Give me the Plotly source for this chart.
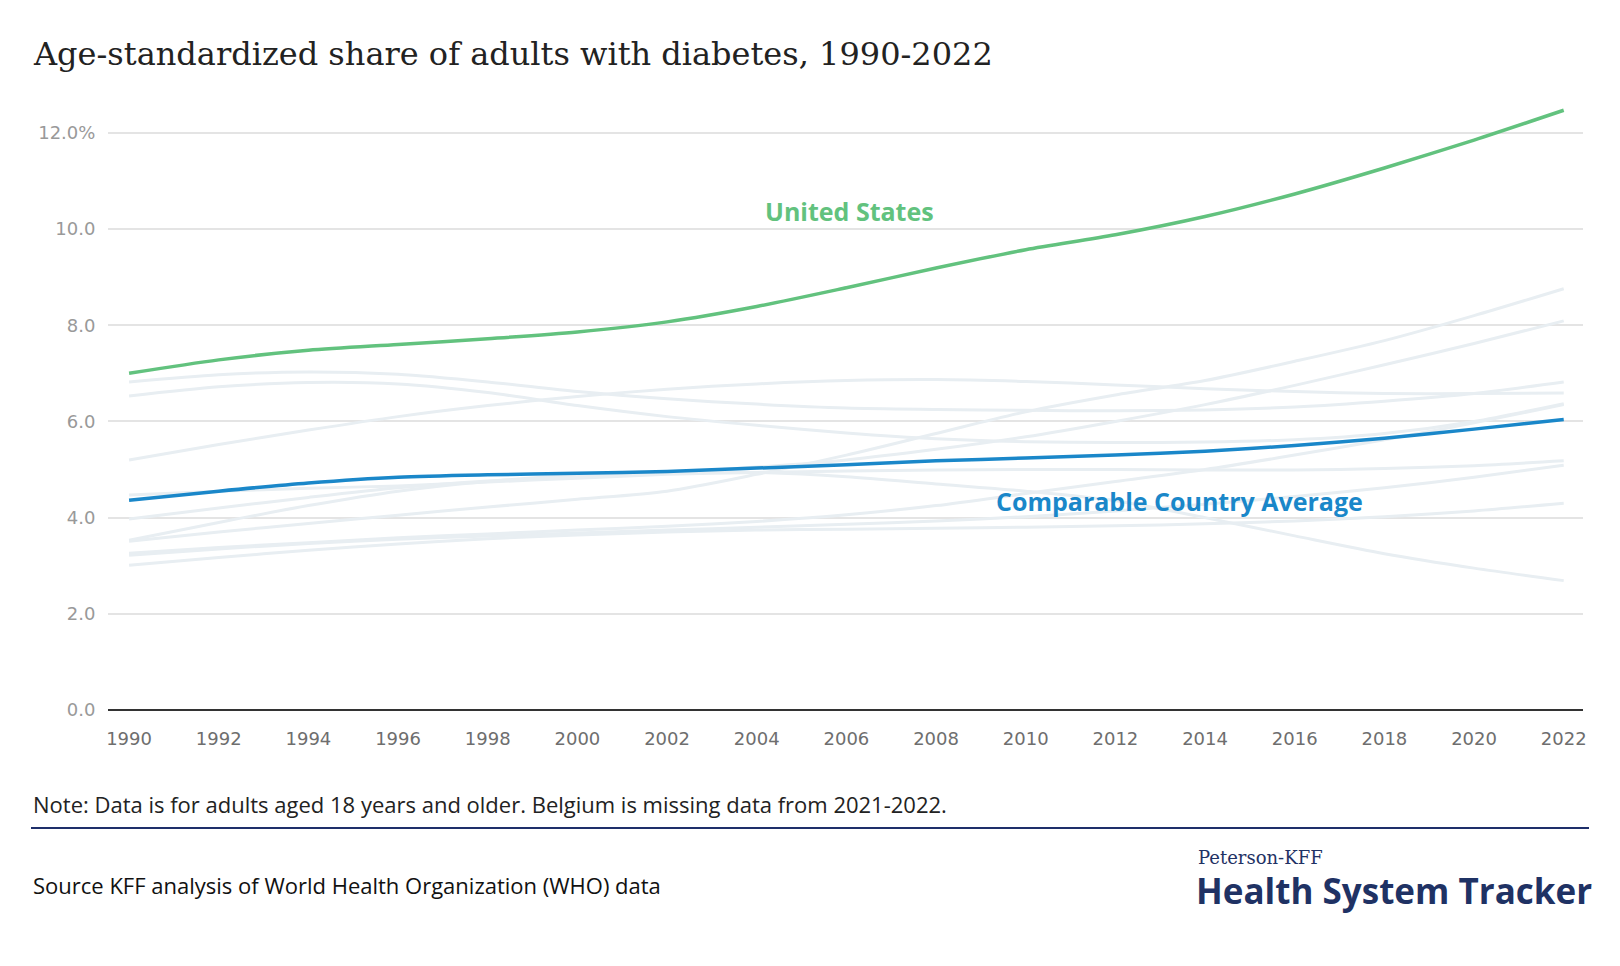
import plotly.graph_objects as go

years = [1990, 1992, 1994, 1996, 1998, 2000, 2002, 2004, 2006, 2008, 2010, 2012, 2014, 2016, 2018, 2020, 2022]

united_states = [7.00, 7.28, 7.48, 7.60, 7.72, 7.86, 8.07, 8.39, 8.78, 9.19, 9.57, 9.88, 10.26, 10.73, 11.27, 11.85, 12.47]
comparable_avg = [4.36, 4.55, 4.72, 4.84, 4.89, 4.92, 4.96, 5.03, 5.10, 5.18, 5.24, 5.30, 5.38, 5.50, 5.65, 5.84, 6.04]

country_a = [6.82, 6.97, 7.03, 6.98, 6.82, 6.62, 6.47, 6.36, 6.28, 6.25, 6.23, 6.22, 6.24, 6.30, 6.42, 6.58, 6.82]
country_b = [6.53, 6.72, 6.81, 6.78, 6.60, 6.33, 6.10, 5.92, 5.76, 5.64, 5.58, 5.56, 5.57, 5.62, 5.75, 6.00, 6.37]
country_c = [5.20, 5.52, 5.82, 6.10, 6.33, 6.52, 6.67, 6.78, 6.85, 6.87, 6.83, 6.76, 6.68, 6.62, 6.58, 6.58, 6.59]
country_d = [4.47, 4.55, 4.61, 4.66, 4.74, 4.82, 4.90, 4.94, 4.97, 4.99, 5.00, 5.00, 4.99, 4.99, 5.02, 5.08, 5.18]
country_e = [3.53, 3.90, 4.25, 4.55, 4.75, 4.88, 4.95, 4.94, 4.85, 4.70, 4.55, 4.35, 4.00, 3.62, 3.25, 2.95, 2.69]
country_f = [3.97, 4.20, 4.42, 4.62, 4.76, 4.85, 4.93, 5.05, 5.20, 5.42, 5.68, 6.00, 6.35, 6.75, 7.18, 7.62, 8.09]
country_g = [3.51, 3.70, 3.88, 4.05, 4.22, 4.38, 4.55, 4.90, 5.30, 5.75, 6.20, 6.55, 6.85, 7.25, 7.68, 8.20, 8.76]
country_h = [3.26, 3.38, 3.48, 3.58, 3.66, 3.74, 3.82, 3.92, 4.06, 4.25, 4.50, 4.75, 5.00, 5.30, 5.62, 5.97, 6.35]
country_i = [3.22, 3.35, 3.46, 3.55, 3.62, 3.68, 3.74, 3.80, 3.86, 3.93, 4.02, 4.14, 4.28, 4.44, 4.62, 4.84, 5.09]
country_j = [3.01, 3.17, 3.32, 3.45, 3.56, 3.64, 3.70, 3.74, 3.76, 3.78, 3.80, 3.83, 3.87, 3.93, 4.02, 4.14, 4.30]

gray_series = [country_a, country_b, country_c, country_d, country_e,
               country_f, country_g, country_h, country_i, country_j]

y_ticks = [0, 2, 4, 6, 8, 10, 12]
y_tick_labels = ["0.0", "2.0", "4.0", "6.0", "8.0", "10.0", "12.0%"]
x_ticks = list(range(1990, 2023, 2))

W, H = 1620, 966
L, R, T, B = 108, 37, 104, 256
PW, PH = W - L - R, H - T - B
SANS = "Open Sans"
TICK = "DejaVu Sans"


def px(x):
    return (x - L) / PW


def py(y):
    return (H - B - y) / PH


fig = go.Figure()
for s in gray_series:
    fig.add_trace(go.Scatter(x=years, y=s, mode="lines",
                             line=dict(color="#e8eef2", width=3, shape="spline", smoothing=0.8),
                             hoverinfo="skip", showlegend=False))

fig.add_trace(go.Scatter(x=years, y=comparable_avg, mode="lines",
                         line=dict(color="#1a87c9", width=3.5, shape="spline", smoothing=0.8),
                         showlegend=False, name="Comparable Country Average"))
fig.add_trace(go.Scatter(x=years, y=united_states, mode="lines",
                         line=dict(color="#62c27e", width=3.5, shape="spline", smoothing=0.8),
                         showlegend=False, name="United States"))

fig.add_annotation(x=2006.06, y=10.37, xref="x", yref="y", text="<b>United States</b>",
                   showarrow=False, font=dict(family=SANS, size=25, color="#62c27e"))
fig.add_annotation(x=2013.42, y=4.34, xref="x", yref="y", text="<b>Comparable Country Average</b>",
                   showarrow=False, font=dict(family=SANS, size=25, color="#1a87c9"))

# title
fig.add_annotation(x=px(31), y=py(54), xref="paper", yref="paper", xanchor="left", yanchor="middle",
                   text="Age-standardized share of adults with diabetes, 1990-2022", showarrow=False,
                   font=dict(family="DejaVu Serif", size=32, color="#222222"))
# note
fig.add_annotation(x=px(31), y=py(804), xref="paper", yref="paper", xanchor="left", yanchor="middle",
                   text="Note: Data is for adults aged 18 years and older. Belgium is missing data from 2021-2022.",
                   showarrow=False, font=dict(family=SANS, size=22, color="#222222"))
fig.add_shape(type="line", xref="paper", yref="paper", x0=px(31), x1=px(1589), y0=py(828), y1=py(828),
              line=dict(color="#1e2f6a", width=2))
fig.add_annotation(x=px(31), y=py(885), xref="paper", yref="paper", xanchor="left", yanchor="middle",
                   text="Source KFF analysis of World Health Organization (WHO) data",
                   showarrow=False, font=dict(family=SANS, size=22, color="#111111"))
fig.add_annotation(x=px(1196), y=py(857), xref="paper", yref="paper", xanchor="left", yanchor="middle",
                   text="Peterson-KFF", showarrow=False,
                   font=dict(family="DejaVu Serif", size=18, color="#1f3264"))
fig.add_annotation(x=px(1194), y=py(890), xref="paper", yref="paper", xanchor="left", yanchor="middle",
                   text="<b>Health System Tracker</b>", showarrow=False,
                   font=dict(family=SANS, size=35, color="#1f3264"))

fig.update_layout(
    width=W, height=H,
    margin=dict(l=L, r=R, t=T, b=B),
    paper_bgcolor="white", plot_bgcolor="white",
    xaxis=dict(range=[1989.53, 2022.43], tickvals=x_ticks, ticktext=[str(v) for v in x_ticks],
               showgrid=False, zeroline=False, showline=False,
               ticks="outside", ticklen=12, tickcolor="rgba(0,0,0,0)",
               tickfont=dict(family=TICK, size=18, color="#6e6e6e")),
    yaxis=dict(range=[0, 12.6], tickvals=y_ticks, ticktext=y_tick_labels,
               showgrid=True, gridcolor="#e4e4e4", gridwidth=1.5,
               zeroline=True, zerolinecolor="#333333", zerolinewidth=2, showline=False,
               ticks="outside", ticklen=8, tickcolor="rgba(0,0,0,0)",
               tickfont=dict(family=TICK, size=18, color="#999999")),
)

fig.write_html("out.html")
